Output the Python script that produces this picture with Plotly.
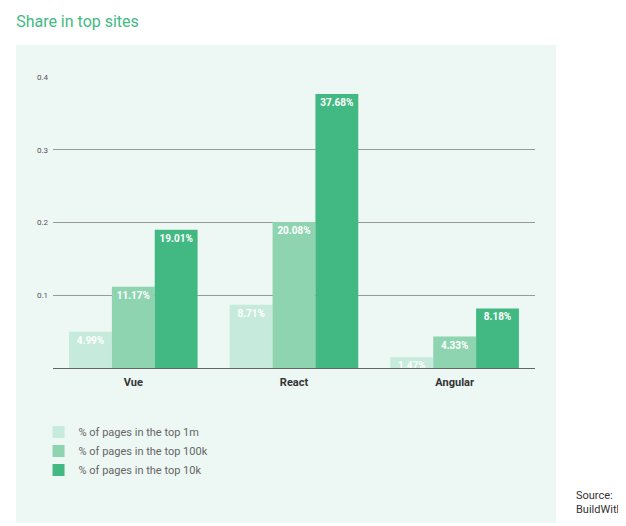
import plotly.graph_objects as go

categories = ["Vue", "React", "Angular"]
series_names = ["% of pages in the top 1m", "% of pages in the top 100k", "% of pages in the top 10k"]
top1m = [0.0499, 0.0871, 0.0147]
top100k = [0.1117, 0.2008, 0.0433]
top10k = [0.1901, 0.3768, 0.0818]
colors = ["#c6eadb", "#8ed4b1", "#42b983"]

fig = go.Figure()
for name, vals, c in zip(series_names, [top1m, top100k, top10k], colors):
    fig.add_trace(go.Bar(
        x=categories, y=vals, name=name, marker_color=c, marker_line_width=0,
        text=[f"{v*100:.2f}%" for v in vals], textposition="inside",
        insidetextanchor="end", textangle=0, constraintext="none",
        textfont=dict(color="white", size=10, family="Roboto", weight="bold"),
    ))

fig.add_shape(type="rect", xref="paper", yref="paper", x0=-0.077, x1=1.044, y0=-0.533, y1=1.11,
              fillcolor="#edf7f3", line_width=0, layer="below")

fig.update_layout(
    width=626, height=526, margin=dict(l=45, r=99, t=69, b=166, autoexpand=False),
    paper_bgcolor="white", plot_bgcolor="rgba(0,0,0,0)",
    barmode="group", bargap=0.2, bargroupgap=0,
    font=dict(family="Roboto", color="#555"),
    title=dict(text="Share in top sites", x=0.013, xanchor="left", y=0.985, yanchor="top",
               font=dict(size=16, color="#42b983", family="Roboto")),
    showlegend=True,
    legend=dict(x=-0.03, y=-0.17, xanchor="left", yanchor="top", bgcolor="rgba(0,0,0,0)",
                font=dict(size=11, color="#666"), tracegroupgap=0, itemwidth=30),
    xaxis=dict(tickfont=dict(size=11, color="#333", weight="bold"), showline=False, ticks="",
               ticklabelstandoff=6),
    yaxis=dict(range=[0, 0.4], tickvals=[0.1, 0.2, 0.3, 0.4], ticktext=["0.1", "0.2", "0.3", "0.4"],
               showgrid=True, gridcolor="#999", gridwidth=1, zeroline=True, zerolinecolor="#666",
               zerolinewidth=1, tickfont=dict(size=8, color="#555"), ticklabelstandoff=4),
)
fig.add_annotation(text="Source:<br>BuildWith", xref="paper", yref="paper", x=1.08, y=-0.41,
                   xanchor="left", yanchor="top", showarrow=False, align="left",
                   font=dict(size=11, color="#333"))
fig.write_html("out.html")
